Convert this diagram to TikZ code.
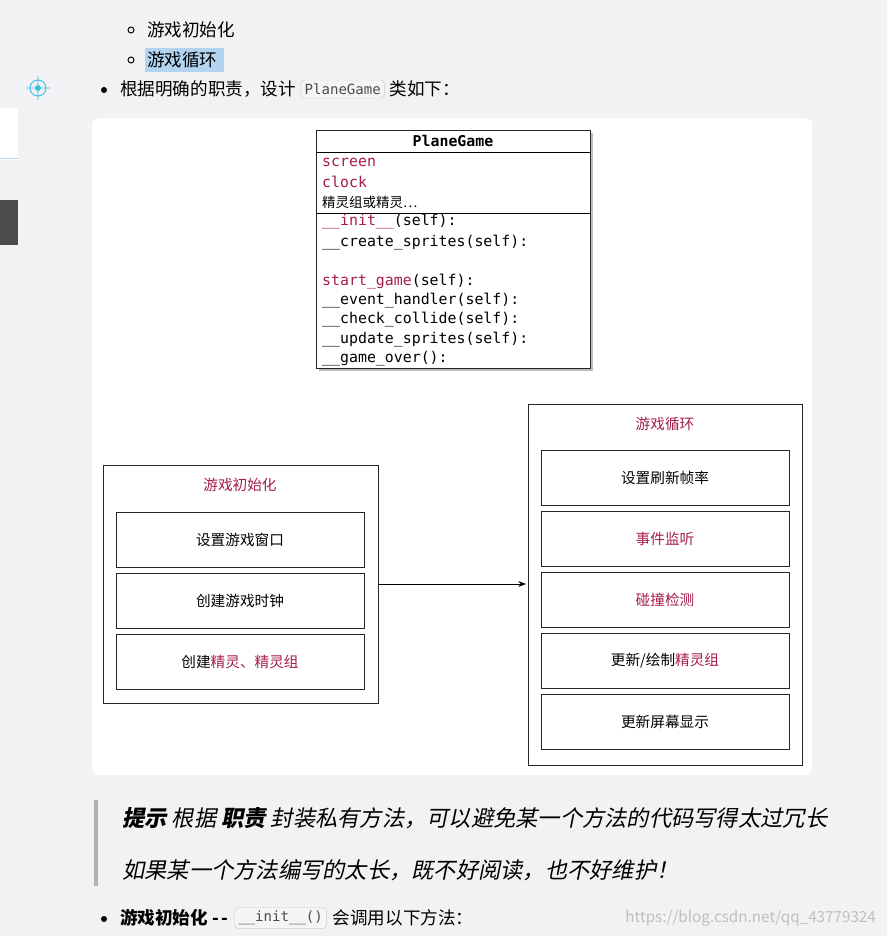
\documentclass[tikz,border=0pt]{standalone}
\usepackage{fontspec}
\setmainfont{Noto Sans CJK SC}
\setmonofont{DejaVu Sans Mono}
\newfontfamily\cjkit[FakeSlant=0.2]{Noto Sans CJK SC}
\usepackage{tikz}
\usetikzlibrary{arrows.meta,positioning}
\definecolor{pagebg}{RGB}{242,242,244}
\definecolor{keyred}{RGB}{165,30,75}
\definecolor{hilite}{RGB}{178,212,240}
\definecolor{targetcyan}{RGB}{60,190,230}
\tikzset{
  txt/.style={anchor=west, inner sep=0pt, font=\fontsize{15}{17}\selectfont},
  code/.style={anchor=west, inner sep=0pt, font=\ttfamily\fontsize{12.7}{14}\selectfont},
  groupbox/.style={draw=black!85, thick, fill=white},
  stepbox/.style={draw=black!85, thick, fill=white, minimum width=7.44cm, minimum height=1.65cm, font=\fontsize{12.5}{14}\selectfont},
  grouptitle/.style={text=keyred, font=\fontsize{12.5}{14}\selectfont},
  codechip/.style={draw=black!20, rounded corners=3pt, fill=black!4, inner sep=3pt, font=\ttfamily\fontsize{12}{14}\selectfont, text=black!70}
}
\begin{document}
\begin{tikzpicture}[x=0.03cm, y=-0.03cm, >=Stealth]
    % page background
    \fill[pagebg] (0,0) rectangle (887,936);
    \useasboundingbox (0,0) rectangle (887,936);
    % left sidebar pieces
    \fill[white] (0,108) rectangle (18,160);
    \draw[hilite, thick] (0,158) -- (18,158);
    \fill[black!70] (0,200) rectangle (18,245);
    % top list
    \draw[thick] (131,30) circle (3);
    \node[txt] (init) at (147,30) {游戏初始化};
    \fill[hilite] (145,48) rectangle (224,72);
    \draw[thick] (131,60) circle (3);
    \node[txt] (loop) at (147,60) {游戏循环};
    \draw[targetcyan, thick] (38,88) circle (8) (26,88) -- (50,88) (38,76) -- (38,100);
    \fill[targetcyan] (38,88) circle (3);
    \fill (104,90) circle (3);
    \node[txt] (design) at (120,89) {根据明确的职责，设计};
    \node[codechip, right=4pt of design] (chip) {PlaneGame};
    \node[txt, right=4pt of chip] {类如下：};
    % diagram panel
    \fill[white, rounded corners=6pt] (92,118) rectangle (812,775);
    % class box
    \fill[black!25] (319,133) rectangle (593,371);
    \draw[groupbox] (316,130) rectangle (590,368);
    \draw[thick] (316,152) -- (590,152) (316,213) -- (590,213);
    \node[font=\ttfamily\bfseries\fontsize{12.7}{14}\selectfont] (cls) at (453,141) {PlaneGame};
    \node[code, text=keyred] at (322,162) {screen};
    \node[code, text=keyred] at (322,182) {clock};
    \node[txt, font=\fontsize{11.5}{13}\selectfont] at (322,202) {精灵组或精灵…};
    \node[code] at (322,222) {\textcolor{keyred}{\_\_init\_\_}(self):};
    \node[code] at (322,243) {\_\_create\_sprites(self):};
    \node[code] at (322,282) {\textcolor{keyred}{start\_game}(self):};
    \node[code] at (322,301) {\_\_event\_handler(self):};
    \node[code] at (322,320) {\_\_check\_collide(self):};
    \node[code] at (322,340) {\_\_update\_sprites(self):};
    \node[code] at (322,359) {\_\_game\_over():};
    % initialisation group
    \draw[groupbox] (103,465) rectangle (378,703);
    \node[grouptitle] at (240,485) {游戏初始化};
    \node[stepbox] (win) at (240,540) {设置游戏窗口};
    \node[stepbox, below=0.15cm of win] (clk) {创建游戏时钟};
    \node[stepbox, below=0.15cm of clk] (spr) {创建\textcolor{keyred}{精灵、精灵组}};
    % game loop group
    \draw[groupbox] (528,404) rectangle (802,765);
    \node[grouptitle] at (665,424) {游戏循环};
    \node[stepbox] (fps) at (665,478) {设置刷新帧率};
    \node[stepbox, below=0.15cm of fps, text=keyred] (evt) {事件监听};
    \node[stepbox, below=0.15cm of evt, text=keyred] (hit) {碰撞检测};
    \node[stepbox, below=0.15cm of hit] (upd) {更新/绘制\textcolor{keyred}{精灵组}};
    \node[stepbox, below=0.15cm of upd] (scr) {更新屏幕显示};
    \coordinate (from) at (378,584);
    \coordinate (to) at (526,584);
    \draw[thick, ->] (from) -- (to);
    % hint block
    \fill[black!30] (94,800) rectangle (98,886);
    \node[txt, font=\cjkit\fontsize{19}{21}\selectfont] at (122,818) {\textbf{提示} 根据 \textbf{职责} 封装私有方法，可以避免某一个方法的代码写得太过冗长};
    \node[txt, font=\cjkit\fontsize{19}{21}\selectfont] at (122,870) {如果某一个方法编写的太长，既不好阅读，也不好维护！};
    % bottom bullet
    \fill (104,919) circle (3);
    \node[txt] (ini) at (120,918) {\textbf{游戏初始化} \textbf{-\,-}};
    \node[codechip, right=5pt of ini] (chip2) {\_\_init\_\_()};
    \node[txt, right=5pt of chip2] {会调用以下方法：};
    \node[anchor=east, text=black!25, font=\fontsize{13}{15}\selectfont] at (880,918) {https://blog.csdn.net/qq\_43779324};
\end{tikzpicture}
\end{document}
